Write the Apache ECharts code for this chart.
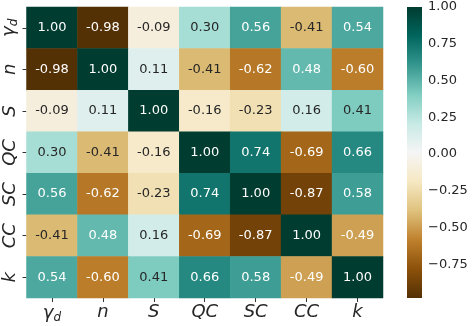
<!DOCTYPE html>
<html>
<head>
<meta charset="utf-8">
<script src="https://cdn.jsdelivr.net/npm/echarts@6/dist/echarts.min.js"></script>
<style>
  html, body { margin: 0; padding: 0; background: #ffffff; }
  #chart { width: 474px; height: 326px; }
</style>
</head>
<body>
<div id="chart"></div>
<script>
// Variables of the correlation matrix (rich-text names for axis labels)
const variables = ['gd', 'n', 'S', 'QC', 'SC', 'CC', 'k'];
const variableLabels = ['{it|γ}{sub|d}', '{it|n}', '{it|S}', '{it|QC}', '{it|SC}', '{it|CC}', '{it|k}'];

// Pearson correlation coefficients, row by row (top to bottom)
const rowGd = [1.00, -0.98, -0.09, 0.30, 0.56, -0.41, 0.54];
const rowN  = [-0.98, 1.00, 0.11, -0.41, -0.62, 0.48, -0.60];
const rowS  = [-0.09, 0.11, 1.00, -0.16, -0.23, 0.16, 0.41];
const rowQC = [0.30, -0.41, -0.16, 1.00, 0.74, -0.69, 0.66];
const rowSC = [0.56, -0.62, -0.23, 0.74, 1.00, -0.87, 0.58];
const rowCC = [-0.41, 0.48, 0.16, -0.69, -0.87, 1.00, -0.49];
const rowK  = [0.54, -0.60, 0.41, 0.66, 0.58, -0.49, 1.00];
const matrix = [rowGd, rowN, rowS, rowQC, rowSC, rowCC, rowK];

// Colour bar tick labels
const colorbarTicks = [1.00, 0.75, 0.50, 0.25, 0.00, -0.25, -0.50, -0.75];

// BrBG diverging palette (brown -> white -> blue-green)
const brbg = ['#543005', '#8c510a', '#bf812d', '#dfc27d', '#f6e8c3', '#f5f5f5',
              '#c7eae5', '#80cdc1', '#35978f', '#01665e', '#003c30'];

const allValues = matrix.flat();
const vmin = Math.min(...allValues);
const vmax = Math.max(...allValues);

function hexToRgb(h) {
  return [parseInt(h.slice(1, 3), 16), parseInt(h.slice(3, 5), 16), parseInt(h.slice(5, 7), 16)];
}
function colorAt(v) {
  const t = Math.max(0, Math.min(1, (v - vmin) / (vmax - vmin))) * (brbg.length - 1);
  const i = Math.min(brbg.length - 2, Math.floor(t));
  const f = t - i;
  const a = hexToRgb(brbg[i]), b = hexToRgb(brbg[i + 1]);
  return a.map((c, k) => c + (b[k] - c) * f);
}
function luminance(rgb) {
  const lin = rgb.map(c => {
    c = c / 255;
    return c <= 0.03928 ? c / 12.92 : Math.pow((c + 0.055) / 1.055, 2.4);
  });
  return 0.2126 * lin[0] + 0.7152 * lin[1] + 0.0722 * lin[2];
}

const heatData = [];
matrix.forEach((row, r) => {
  row.forEach((v, c) => {
    const dark = luminance(colorAt(v)) <= 0.408;
    heatData.push({ value: [c, r, v], label: { color: dark ? '#ffffff' : '#262626' } });
  });
});

const FONT = 'DejaVu Sans';
const labelRich = {
  it: { fontFamily: FONT, fontStyle: 'italic', fontSize: 18, color: '#262626' },
  sub: { fontFamily: FONT, fontStyle: 'italic', fontSize: 12, color: '#262626', padding: [9, 0, 0, 0] }
};

const chart = echarts.init(document.getElementById('chart'), null, { renderer: 'canvas' });

chart.setOption({
  animation: false,
  backgroundColor: '#ffffff',
  grid: [
    { left: 26, top: 7, width: 357, height: 291 },
    { left: 407, top: 7, width: 15, height: 291 }
  ],
  xAxis: [
    {
      gridIndex: 0, type: 'category', data: variables,
      axisLine: { show: false },
      axisTick: { show: true, interval: 0, alignWithLabel: true, length: 4, lineStyle: { color: '#333333' } },
      axisLabel: { interval: 0, margin: 5, formatter: (v, i) => variableLabels[i], rich: labelRich },
      splitLine: { show: false }
    },
    { gridIndex: 1, type: 'value', min: 0, max: 1, show: false }
  ],
  yAxis: [
    {
      gridIndex: 0, type: 'category', data: variables, inverse: true,
      axisLine: { show: false },
      axisTick: { show: true, interval: 0, alignWithLabel: true, length: 4, lineStyle: { color: '#333333' } },
      axisLabel: { interval: 0, margin: 7, rotate: 90, formatter: (v, i) => variableLabels[i], rich: labelRich },
      splitLine: { show: false }
    },
    {
      gridIndex: 1, type: 'value', min: vmin, max: vmax, position: 'right',
      axisLine: { show: false },
      splitLine: { show: false },
      axisTick: { show: true, length: 4, lineStyle: { color: '#333333' }, customValues: colorbarTicks },
      axisLabel: {
        margin: 6, customValues: colorbarTicks,
        fontFamily: FONT, fontSize: 13, color: '#262626',
        formatter: v => (v < 0 ? '\u2212' : '') + Math.abs(v).toFixed(2)
      }
    }
  ],
  visualMap: {
    show: false, type: 'continuous', seriesIndex: 0, dimension: 2,
    min: vmin, max: vmax, inRange: { color: brbg }
  },
  series: [
    {
      type: 'heatmap', xAxisIndex: 0, yAxisIndex: 0, data: heatData,
      label: {
        show: true, fontFamily: FONT, fontSize: 13,
        formatter: p => p.value[2].toFixed(2)
      },
      itemStyle: { borderWidth: 0 },
      emphasis: { disabled: true }
    },
    {
      type: 'custom', xAxisIndex: 1, yAxisIndex: 1, silent: true,
      data: [[0, vmax, 1, vmin]],
      renderItem: (params, api) => {
        const p0 = api.coord([api.value(0), api.value(1)]);
        const p1 = api.coord([api.value(2), api.value(3)]);
        const stops = brbg.map((c, i) => ({ offset: i / (brbg.length - 1), color: brbg[brbg.length - 1 - i] }));
        return {
          type: 'rect',
          shape: { x: p0[0], y: p0[1], width: p1[0] - p0[0], height: p1[1] - p0[1] },
          style: { fill: new echarts.graphic.LinearGradient(0, 0, 0, 1, stops) }
        };
      }
    }
  ]
});
</script>
</body>
</html>
